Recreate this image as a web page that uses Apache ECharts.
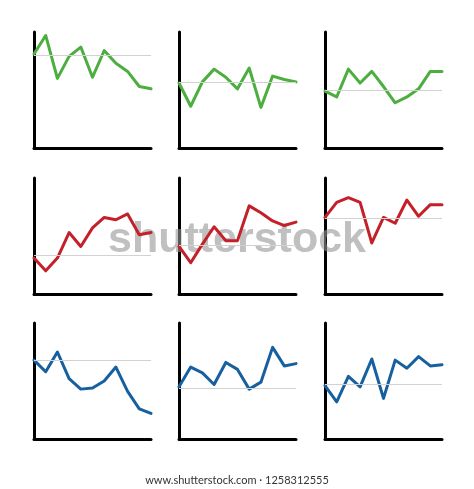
<!DOCTYPE html>
<html>
<head>
<meta charset="utf-8">
<script src="https://cdn.jsdelivr.net/npm/echarts@6/dist/echarts.min.js"></script>
<style>html,body{margin:0;padding:0;background:#fff}#c{width:474px;height:489px}</style>
</head>
<body>
<div id="c"></div>
<script>
var categories = ['1','2','3','4','5','6','7','8','9','10','11'];
var green1 = [81, 97, 60, 79, 87, 61, 84, 73, 66, 53, 51];
var green2 = [56, 36, 57, 68, 61, 51, 69, 35, 62, 59, 57];
var green3 = [49, 44, 68, 56, 66, 53, 39, 44, 51, 66, 66];
var red1 = [31, 20, 31, 53, 41, 57, 66, 64, 69, 51, 53];
var red2 = [41, 27, 43, 58, 46, 46, 76, 70, 63, 59, 62];
var red3 = [66, 79, 83, 79, 44, 66, 61, 81, 67, 77, 77];
var blue1 = [68, 58, 75, 52, 43, 44, 50, 62, 41, 26, 22];
var blue2 = [45, 62, 57, 47, 66, 60, 43, 49, 79, 63, 65];
var blue3 = [46, 32, 54, 45, 69, 35, 68, 61, 71, 63, 64];
var refLines = [80, 57, 50, 33, 42, 65, 68, 44, 47];

var panels = [green1, green2, green3, red1, red2, red3, blue1, blue2, blue3];
var colors = ['#4cae3f', '#c4202a', '#17609f'];
var lefts = [34, 179, 325];
var tops = [32, 178, 323];

var grids = [], xAxes = [], yAxes = [], series = [];
panels.forEach(function (d, i) {
  var r = Math.floor(i / 3), c = i % 3;
  grids.push({ left: lefts[c], top: tops[r], width: 117, height: 116 });
  xAxes.push({
    type: 'category', data: categories, gridIndex: i, boundaryGap: false,
    axisLine: { lineStyle: { color: '#000', width: 3 } },
    axisTick: { show: false }, axisLabel: { show: false }, splitLine: { show: false }
  });
  yAxes.push({
    type: 'value', min: 0, max: 100, gridIndex: i,
    axisLine: { show: true, lineStyle: { color: '#000', width: 3 } },
    axisTick: { show: false }, axisLabel: { show: false }, splitLine: { show: false }
  });
  series.push({
    type: 'line', xAxisIndex: i, yAxisIndex: i, data: d,
    symbol: 'none', animation: false, z: 3,
    lineStyle: { color: colors[r], width: 3, join: 'round', cap: 'round' },
    markLine: {
      silent: true, symbol: 'none', label: { show: false }, animation: false,
      lineStyle: { color: '#d2d2d2', width: 1, type: 'solid' },
      data: [{ yAxis: refLines[i] }]
    }
  });
});

var chart = echarts.init(document.getElementById('c'));
chart.setOption({
  animation: false,
  grid: grids, xAxis: xAxes, yAxis: yAxes, series: series,
  graphic: [
    { type: 'text', left: 'center', top: 219, z: 1,
      style: { text: 'shutterstock', fontSize: 43, fontWeight: 'bold',
        fontFamily: 'Liberation Sans, Arial, sans-serif', fill: 'rgba(150,150,150,0.6)' } },
    { type: 'text', left: 'center', top: 475, z: 100,
      style: { text: 'www.shutterstock.com \u00b7 1258312555', fontSize: 11,
        fontFamily: 'Lato, sans-serif', fill: '#333' } }
  ]
});
</script>
</body>
</html>
